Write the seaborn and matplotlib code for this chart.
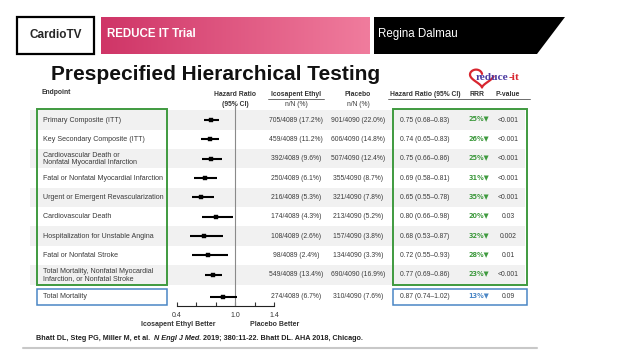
import numpy as np
import pandas as pd
import seaborn as sns
import matplotlib.pyplot as plt
from matplotlib.patches import Rectangle, Polygon
from matplotlib.colors import LinearSegmentedColormap

# chart data
endpoints = ["Primary Composite (ITT)",
             "Key Secondary Composite (ITT)",
             "Cardiovascular Death or\nNonfatal Myocardial Infarction",
             "Fatal or Nonfatal Myocardial Infarction",
             "Urgent or Emergent Revascularization",
             "Cardiovascular Death",
             "Hospitalization for Unstable Angina",
             "Fatal or Nonfatal Stroke",
             "Total Mortality, Nonfatal Myocardial\nInfarction, or Nonfatal Stroke",
             "Total Mortality"]
hr = [0.75, 0.74, 0.75, 0.69, 0.65, 0.80, 0.68, 0.72, 0.77, 0.87]
ci_low = [0.68, 0.65, 0.66, 0.58, 0.55, 0.66, 0.53, 0.55, 0.69, 0.74]
ci_high = [0.83, 0.83, 0.86, 0.81, 0.78, 0.98, 0.87, 0.93, 0.86, 1.02]
ice_events = [705, 459, 392, 250, 216, 174, 108, 98, 549, 274]
ice_pct = [17.2, 11.2, 9.6, 6.1, 5.3, 4.3, 2.6, 2.4, 13.4, 6.7]
pbo_events = [901, 606, 507, 355, 321, 213, 157, 134, 690, 310]
pbo_pct = [22.0, 14.8, 12.4, 8.7, 7.8, 5.2, 3.8, 3.3, 16.9, 7.6]
ice_total = 4089
pbo_total = 4090
rrr = [25, 26, 25, 31, 35, 20, 32, 28, 23, 13]
p_values = ["<0.001", "<0.001", "<0.001", "<0.001", "<0.001",
            "0.03", "0.002", "0.01", "<0.001", "0.09"]
xticks = [0.4, 0.6, 0.8, 1.0, 1.2, 1.4]
xtick_labels = ["0.4", "", "", "1.0", "", "1.4"]

df = pd.DataFrame({"endpoint": endpoints, "hr": hr, "lo": ci_low, "hi": ci_high})
n_main = len(df) - 1  # last row (total mortality) is outside the hierarchy


def row_y(i):
    # pixel centre of each table row
    return 120 + 19.35 * i if i < n_main else 297


df["y"] = [row_y(i) for i in range(len(df))]

sns.set_style("white")
plt.rcParams["font.family"] = ["Liberation Sans", "DejaVu Sans"]

W, H = 638, 359
fig = plt.figure(figsize=(W / 100, H / 100), dpi=100)
bg = fig.add_axes([0, 0, 1, 1])
bg.set_axis_off()

txt = "#3a3a3a"
green = "#3f9a3f"
blue = "#4a86c5"
fs = 4.9

# banner
bg.add_patch(Rectangle((17, 17), 77, 37, fc="white", ec="black", lw=1.6))
bg.text(55.5, 35.5, "CardioTV", fontsize=8.5, fontweight="bold", ha="center", va="center")
grad = LinearSegmentedColormap.from_list("pink", ["#cf3567", "#f07c9d"])
bg.imshow(np.linspace(0, 1, 200)[None, :], cmap=grad, extent=(101, 370, 54, 17),
          aspect="auto", zorder=1)
bg.add_patch(Polygon([(374, 17), (565, 17), (537, 54), (374, 54)], closed=True,
                     fc="black", ec="none"))
bg.set_xlim(0, W)
bg.set_ylim(H, 0)
bg.text(107, 34, "REDUCE IT Trial", fontsize=8.3, fontweight="bold", color="white",
        va="center", zorder=2)
bg.text(378, 34, "Regina Dalmau", fontsize=8.3, color="white", va="center")

# title + logo
bg.text(51, 75, "Prespecified Hierarchical Testing", fontsize=15, fontweight="bold",
        va="center", color="#111111")
t = np.linspace(0.55 * np.pi, 2.0 * np.pi, 120)
hx = 16 * np.sin(t) ** 3
hy = 13 * np.cos(t) - 5 * np.cos(2 * t) - 2 * np.cos(3 * t) - np.cos(4 * t)
bg.plot(482 + hx * 0.75, 77 - hy * 0.62, color="#d8262f", lw=1.6, solid_capstyle="round")
r1 = bg.text(476, 78, "reduce", fontsize=8.2, fontweight="bold", family="Liberation Serif",
             color="#4b3aa0", va="center")
fig.canvas.draw()
x = bg.transData.inverted().transform(r1.get_window_extent().get_points())[1][0]
bg.text(x, 78, "-it", fontsize=8.2, fontweight="bold", family="Liberation Serif",
        color="#d8262f", va="center")

# column headers
hdr = dict(fontsize=fs, fontweight="bold", color="#333333", va="center")
bg.text(41, 93, "Endpoint", **hdr)
bg.text(235, 95, "Hazard Ratio", ha="center", **hdr)
bg.text(235, 104, "(95% CI)", ha="center", **hdr)
bg.text(296, 94, "Icosapent Ethyl", ha="center", **hdr)
bg.text(358, 94, "Placebo", ha="center", **hdr)
bg.text(425, 94, "Hazard Ratio (95% CI)", ha="center", **hdr)
bg.text(477, 94, "RRR", ha="center", **hdr)
bg.text(508, 94, "P-value", ha="center", **hdr)
bg.text(296, 104, "n/N (%)", ha="center", fontsize=fs, color=txt, va="center")
bg.text(358, 104, "n/N (%)", ha="center", fontsize=fs, color=txt, va="center")
bg.plot([268, 324], [98.5, 98.5], color="#555555", lw=0.6)
bg.plot([388, 530], [98.5, 98.5], color="#555555", lw=0.6)

# row shading and table text
for i, row in df.iterrows():
    y = row["y"]
    if i % 2 == 0 and i < n_main:
        bg.add_patch(Rectangle((30, y - 9.7), 495, 19.4, fc="#f1f1f1", ec="none", zorder=0))
    bg.text(43, y, row["endpoint"], fontsize=fs + 0.2, color=txt, va="center",
            linespacing=0.95)
    bg.text(296, y, f"{ice_events[i]}/{ice_total} ({ice_pct[i]:.1f}%)", fontsize=fs,
            color=txt, va="center", ha="center")
    bg.text(358, y, f"{pbo_events[i]}/{pbo_total} ({pbo_pct[i]:.1f}%)", fontsize=fs,
            color=txt, va="center", ha="center")
    bg.text(400, y, f"{hr[i]:.2f} ({ci_low[i]:.2f}\u2013{ci_high[i]:.2f})", fontsize=fs,
            color=txt, va="center")
    col = green if i < n_main else blue
    bg.text(479, y + 0.6, f"{rrr[i]}%\u25BC", fontsize=fs - 0.2, color=col,
            fontweight="bold", va="baseline", ha="center", family=["DejaVu Sans"])
    bg.text(508, y, p_values[i], fontsize=fs, color=txt, va="center", ha="center")

# boxes around hierarchy / total mortality
top, bot = row_y(0) - 11.5, row_y(n_main - 1) + 10
for x0, x1 in [(37, 167), (393, 527)]:
    bg.add_patch(Rectangle((x0, top), x1 - x0, bot - top, fc="none", ec=green, lw=1.4))
    bg.add_patch(Rectangle((x0, 288.5), x1 - x0, 16.5, fc="none", ec=blue, lw=1.1))

# axis captions and citation
bg.text(178, 325, "Icosapent Ethyl Better", fontsize=5.0, fontweight="bold",
        color="#333333", ha="center", va="center")
bg.text(275, 325, "Placebo Better", fontsize=5.0, fontweight="bold",
        color="#333333", ha="center", va="center")
cite = bg.text(36, 338, "Bhatt DL, Steg PG, Miller M, et al. ", fontsize=5.2,
               fontweight="bold", color="#222222", va="center")
fig.canvas.draw()
x = bg.transData.inverted().transform(cite.get_window_extent().get_points())[1][0]
c2 = bg.text(x + 1.5, 338, "N Engl J Med", fontsize=5.2, fontweight="bold", style="italic",
             color="#222222", va="center")
fig.canvas.draw()
x = bg.transData.inverted().transform(c2.get_window_extent().get_points())[1][0]
bg.text(x, 338, ". 2019; 380:11-22. Bhatt DL. AHA 2018, Chicago.", fontsize=5.2,
        fontweight="bold", color="#222222", va="center")
bg.plot([23, 537], [348, 348], color="#c8c8c8", lw=1.5)

bg.set_xlim(0, W)
bg.set_ylim(H, 0)

# forest plot
fx0, fx1, fy_top, fy_bot = 177, 274, 105, 306
ax = fig.add_axes([fx0 / W, 1 - fy_bot / H, (fx1 - fx0) / W, (fy_bot - fy_top) / H])
ax.patch.set_alpha(0)
ax.axvline(1.0, color="#8a8a8a", lw=0.8, zorder=1)
ax.hlines(df["y"], df["lo"], df["hi"], color="black", lw=1.5, zorder=2)
sns.scatterplot(data=df, x="hr", y="y", marker="s", s=12, color="black",
                edgecolor="black", ax=ax, zorder=3, legend=False)
ax.set_xlim(0.4, 1.4)
ax.set_ylim(fy_bot, fy_top)
ax.set_xticks(xticks)
ax.set_xticklabels(xtick_labels)
ax.set_yticks([])
ax.set_xlabel("")
ax.set_ylabel("")
for s in ["top", "left", "right"]:
    ax.spines[s].set_visible(False)
ax.spines["bottom"].set_color("#222222")
ax.spines["bottom"].set_linewidth(0.8)
ax.tick_params(axis="x", direction="in", length=3, width=0.8, labelsize=5.0,
               pad=4, colors="#333333", bottom=True)

fig.savefig("out.png", dpi=100)
